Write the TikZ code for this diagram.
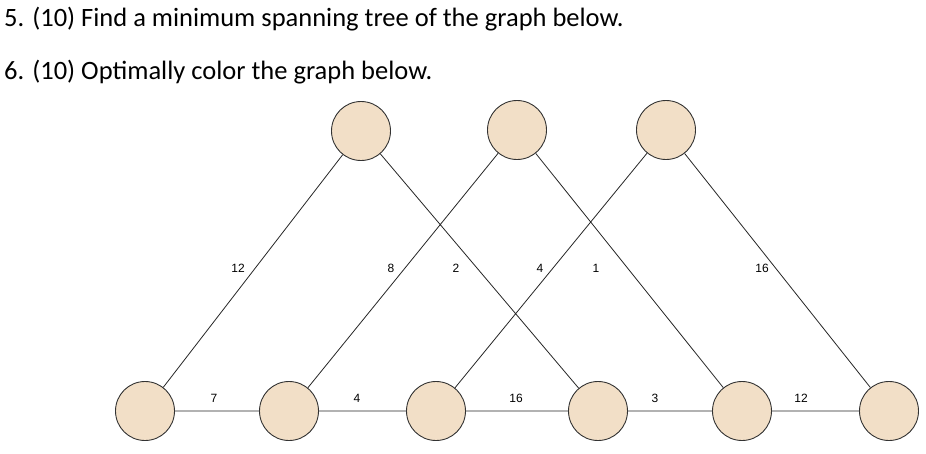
\documentclass[tikz,border=0pt]{standalone}
\usepackage{fontspec}
\setmainfont{Carlito}
\newfontfamily\lab{Liberation Sans}
\definecolor{nodefill}{HTML}{F2DFC7}
\begin{document}
\begin{tikzpicture}[x=1pt,y=-1pt,
  vert/.style={circle,draw=black!80,line width=0.9pt,fill=nodefill,minimum size=59pt,inner sep=0pt},
  edge/.style={draw=black!85,line width=0.8pt},
  wt/.style={font=\lab\fontsize{12}{14}\selectfont,fill=white,inner sep=1pt},
  title/.style={anchor=base west,font=\fontsize{26.5}{30}\selectfont,inner sep=0pt}]
\useasboundingbox[fill=white] (0,0) rectangle (926,453);
\node[title] (q5) at (4,26) {5. (10) Find a minimum spanning tree of the graph below.};
\node[title] (q6) at (4,79) {6. (10) Optimally color the graph below.};
\node[vert] (t1) at (361,131) {};
\node[vert] (t2) at (517,130) {};
\node[vert] (t3) at (666,130) {};
\node[vert] (b1) at (145,411) {};
\node[vert] (b2) at (289,411) {};
\node[vert] (b3) at (436,411) {};
\node[vert] (b4) at (598,411) {};
\node[vert] (b5) at (742,411) {};
\node[vert] (b6) at (889,411) {};
\path[edge] (t1)--(b1) (t1)--(b4) (t2)--(b2) (t2)--(b5) (t3)--(b3) (t3)--(b6)
  (b1)--(b2) (b2)--(b3) (b3)--(b4) (b4)--(b5) (b5)--(b6);
\node[wt] (w1) at (238,268) {12};
\node[wt] (w2) at (391,268) {8};
\node[wt] (w3) at (456,268) {2};
\node[wt] (w4) at (540,268) {4};
\node[wt] (w5) at (596,268) {1};
\node[wt] (w6) at (762,268) {16};
\node[wt] (w7) at (214,398) {7};
\node[wt] (w8) at (357,398) {4};
\node[wt] (w9) at (516,398) {16};
\node[wt] (w10) at (655,398) {3};
\node[wt] (w11) at (801,398) {12};
\end{tikzpicture}
\end{document}
